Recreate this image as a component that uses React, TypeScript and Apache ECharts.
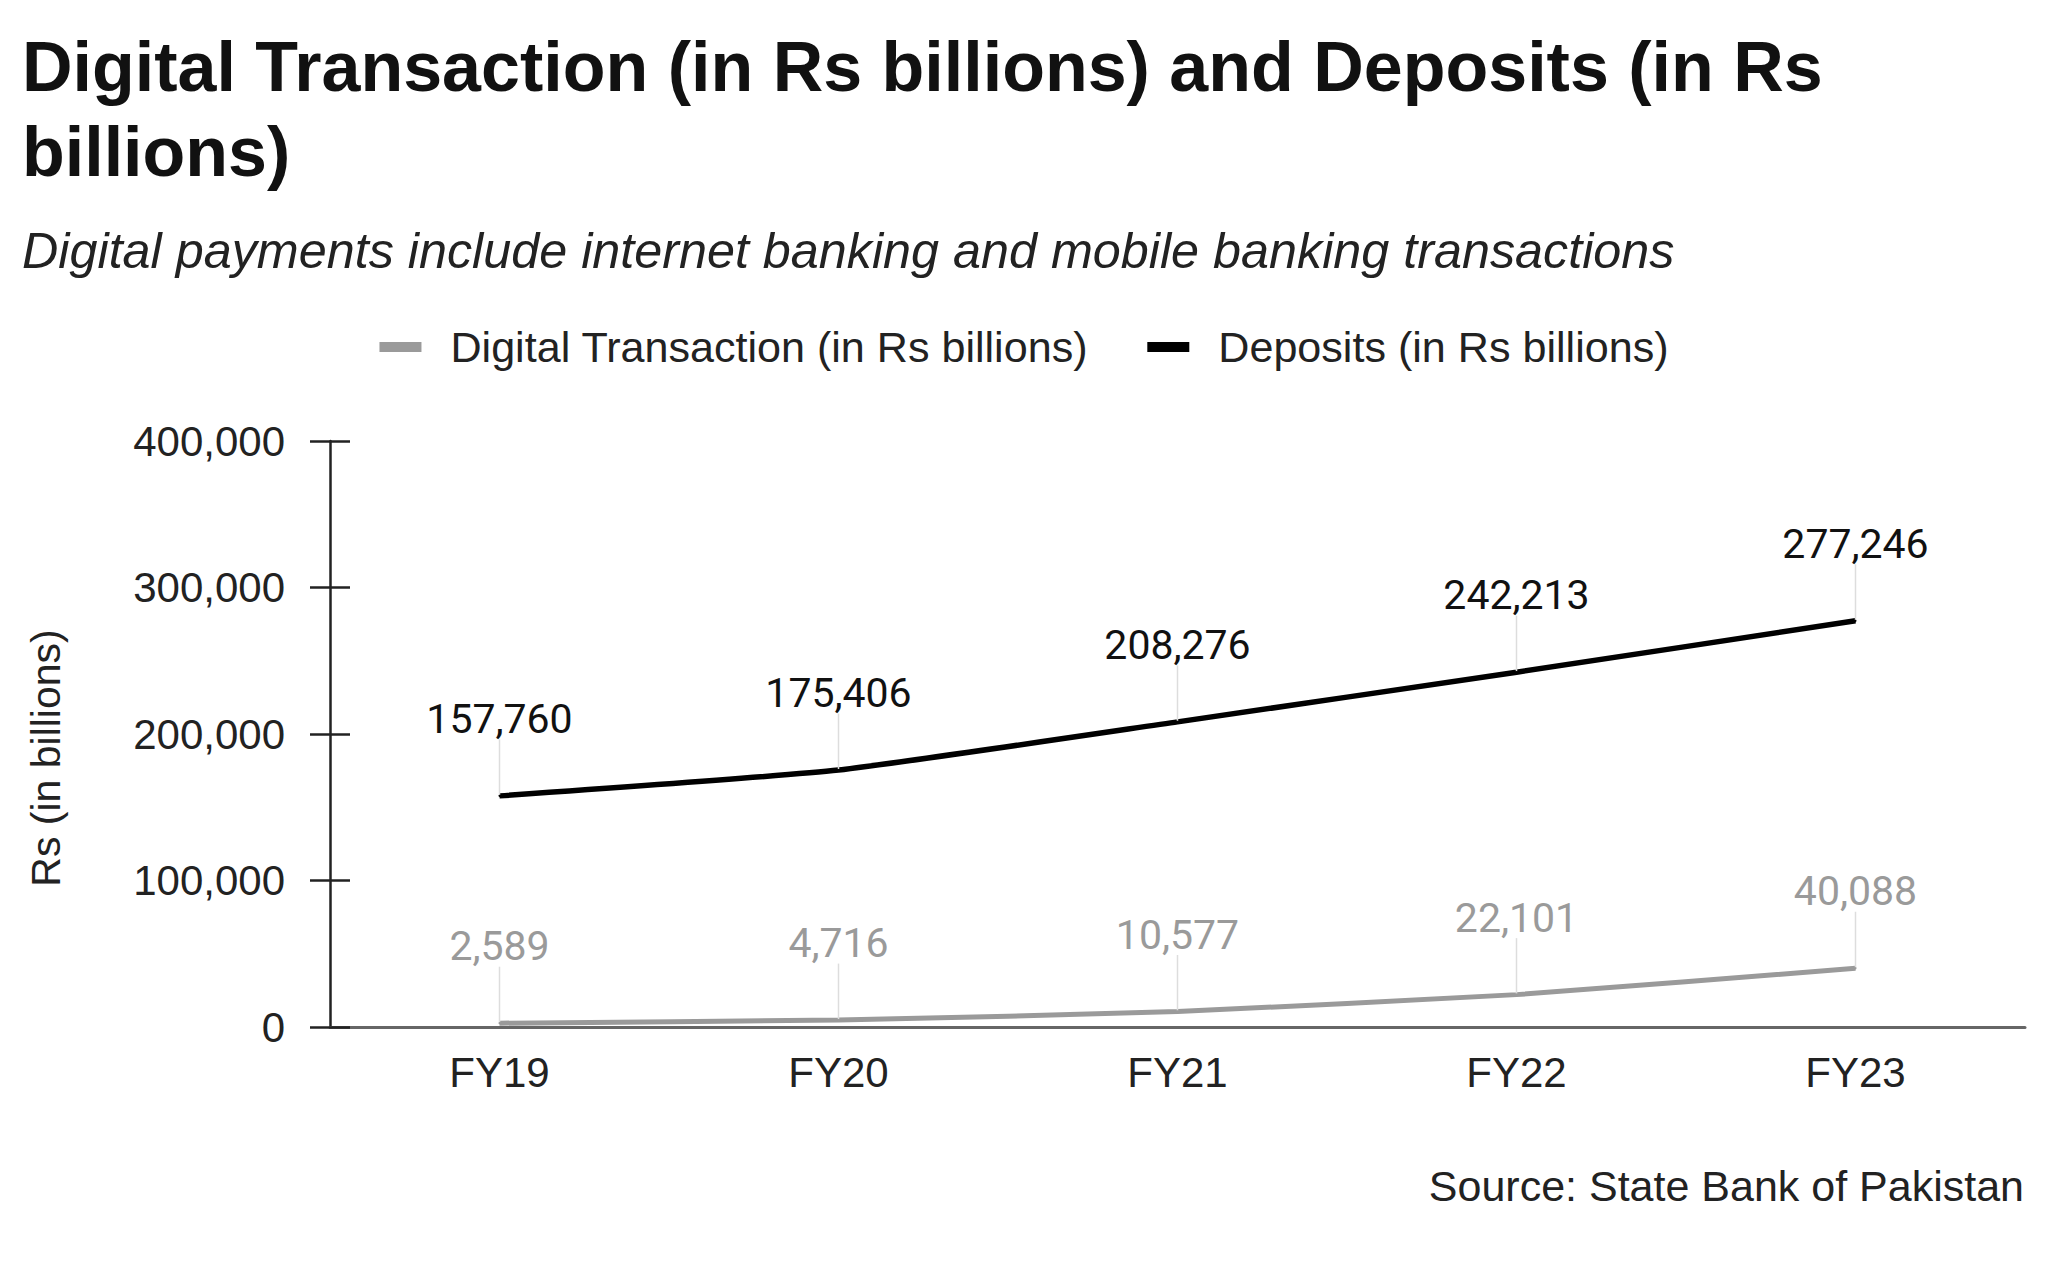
import React, { useEffect, useRef } from 'react';
import * as echarts from 'echarts';

const categories = ['FY19', 'FY20', 'FY21', 'FY22', 'FY23'];
const digitalTransactions = [2589, 4716, 10577, 22101, 40088];
const deposits = [157760, 175406, 208276, 242213, 277246];
const yTicks = [0, 100000, 200000, 300000, 400000];
const seriesNames = ['Digital Transaction (in Rs billions)', 'Deposits (in Rs billions)'];
const titleText = 'Digital Transaction (in Rs billions) and Deposits (in Rs\nbillions)';
const subtitleText = 'Digital payments include internet banking and mobile banking transactions';
const yAxisName = 'Rs (in billions)';
const sourceText = 'Source: State Bank of Pakistan';

const FONT = '"Liberation Sans", Arial, Helvetica, sans-serif';
const LABEL_FONT = 'Roboto, "Liberation Sans", Arial, sans-serif';
const GRAY = '#9a9a9a';
const BLACK = '#000000';

const fmt = (v: number) => v.toLocaleString('en-US');

export default function App() {
  const ref = useRef<HTMLDivElement>(null);

  useEffect(() => {
    if (!ref.current) return;
    const chart = echarts.init(ref.current, undefined, { renderer: 'svg' });
    const yMin = yTicks[0];
    const yMax = yTicks[yTicks.length - 1];
    const yInterval = yTicks[1] - yTicks[0];

    const makeLabel = (color: string) => ({
      show: true,
      position: 'top',
      distance: 0,
      fontFamily: LABEL_FONT,
      fontSize: 41,
      lineHeight: 40,
      color,
      formatter: (p: any) => fmt(p.value),
    });

    chart.setOption({
      animation: false,
      backgroundColor: '#ffffff',
      title: [
        {
          text: titleText,
          left: 22,
          top: 24,
          padding: 0,
          textStyle: {
            fontFamily: FONT,
            fontSize: 70,
            fontWeight: 'bold',
            lineHeight: 85,
            color: '#111111',
          },
        },
        {
          text: subtitleText,
          left: 22,
          top: 226,
          padding: 0,
          textStyle: {
            fontFamily: FONT,
            fontSize: 50.3,
            fontStyle: 'italic',
            fontWeight: 'normal',
            lineHeight: 48,
            color: '#222222',
          },
        },
      ],
      legend: {
        data: seriesNames,
        left: 'center',
        top: 317,
        icon: 'rect',
        itemWidth: 42,
        itemHeight: 10,
        itemGap: 59,
        textStyle: {
          fontFamily: FONT,
          fontSize: 43.1,
          lineHeight: 50,
          color: '#222222',
          padding: [0, 0, 0, 24],
        },
      },
      grid: { left: 330, right: 23, top: 441, bottom: 242, containLabel: false },
      xAxis: {
        type: 'category',
        data: categories,
        boundaryGap: true,
        axisLine: { show: true, lineStyle: { color: '#666666', width: 3 } },
        axisTick: { show: false },
        axisLabel: {
          fontFamily: FONT,
          fontSize: 42,
          lineHeight: 42,
          color: '#222222',
          margin: 24,
        },
        splitLine: { show: false },
      },
      yAxis: [
        {
          type: 'value',
          min: yMin,
          max: yMax,
          interval: yInterval,
          position: 'left',
          axisLine: { show: true, lineStyle: { color: '#222222', width: 2.5 } },
          axisTick: { show: true, length: 20, lineStyle: { color: '#222222', width: 2.5 } },
          axisLabel: {
            fontFamily: FONT,
            fontSize: 42,
            color: '#222222',
            margin: 45,
            formatter: (v: number) => fmt(v),
          },
          splitLine: { show: false },
        },
        {
          type: 'value',
          min: yMin,
          max: yMax,
          interval: yInterval,
          position: 'left',
          axisLine: { show: false },
          axisTick: { show: true, inside: true, length: 20, lineStyle: { color: '#222222', width: 2.5 } },
          axisLabel: { show: false },
          splitLine: { show: false },
        },
      ],
      series: [
        {
          name: seriesNames[0],
          type: 'line',
          data: digitalTransactions,
          yAxisIndex: 0,
          smooth: 0.15,
          symbol: 'circle',
          symbolSize: 2,
          showSymbol: true,
          lineStyle: { color: GRAY, width: 5 },
          itemStyle: { color: GRAY },
          label: makeLabel(GRAY),
          labelLayout: { dy: -56 },
          labelLine: { show: true, lineStyle: { color: '#dddddd', width: 1.5 } },
        },
        {
          name: seriesNames[1],
          type: 'line',
          data: deposits,
          yAxisIndex: 0,
          smooth: 0.15,
          symbol: 'circle',
          symbolSize: 2,
          showSymbol: true,
          lineStyle: { color: BLACK, width: 5.5 },
          itemStyle: { color: BLACK },
          label: makeLabel('#111111'),
          labelLayout: { dy: -56 },
          labelLine: { show: true, lineStyle: { color: '#dddddd', width: 1.5 } },
        },
      ],
      graphic: [
        {
          type: 'text',
          x: 46,
          y: 758,
          rotation: Math.PI / 2,
          style: {
            text: yAxisName,
            fontFamily: FONT,
            fontSize: 41,
            fill: '#222222',
            textAlign: 'center',
            textVerticalAlign: 'middle',
          },
        },
        {
          type: 'text',
          x: 2024,
          y: 1186,
          style: {
            text: sourceText,
            fontFamily: FONT,
            fontSize: 43,
            fill: '#222222',
            textAlign: 'right',
            textVerticalAlign: 'middle',
          },
        },
      ],
    });

    return () => {
      chart.dispose();
    };
  }, []);

  return (
    <div
      ref={ref}
      style={{ position: 'absolute', left: 0, top: 0, width: 2048, height: 1269, background: '#ffffff' }}
    />
  );
}
